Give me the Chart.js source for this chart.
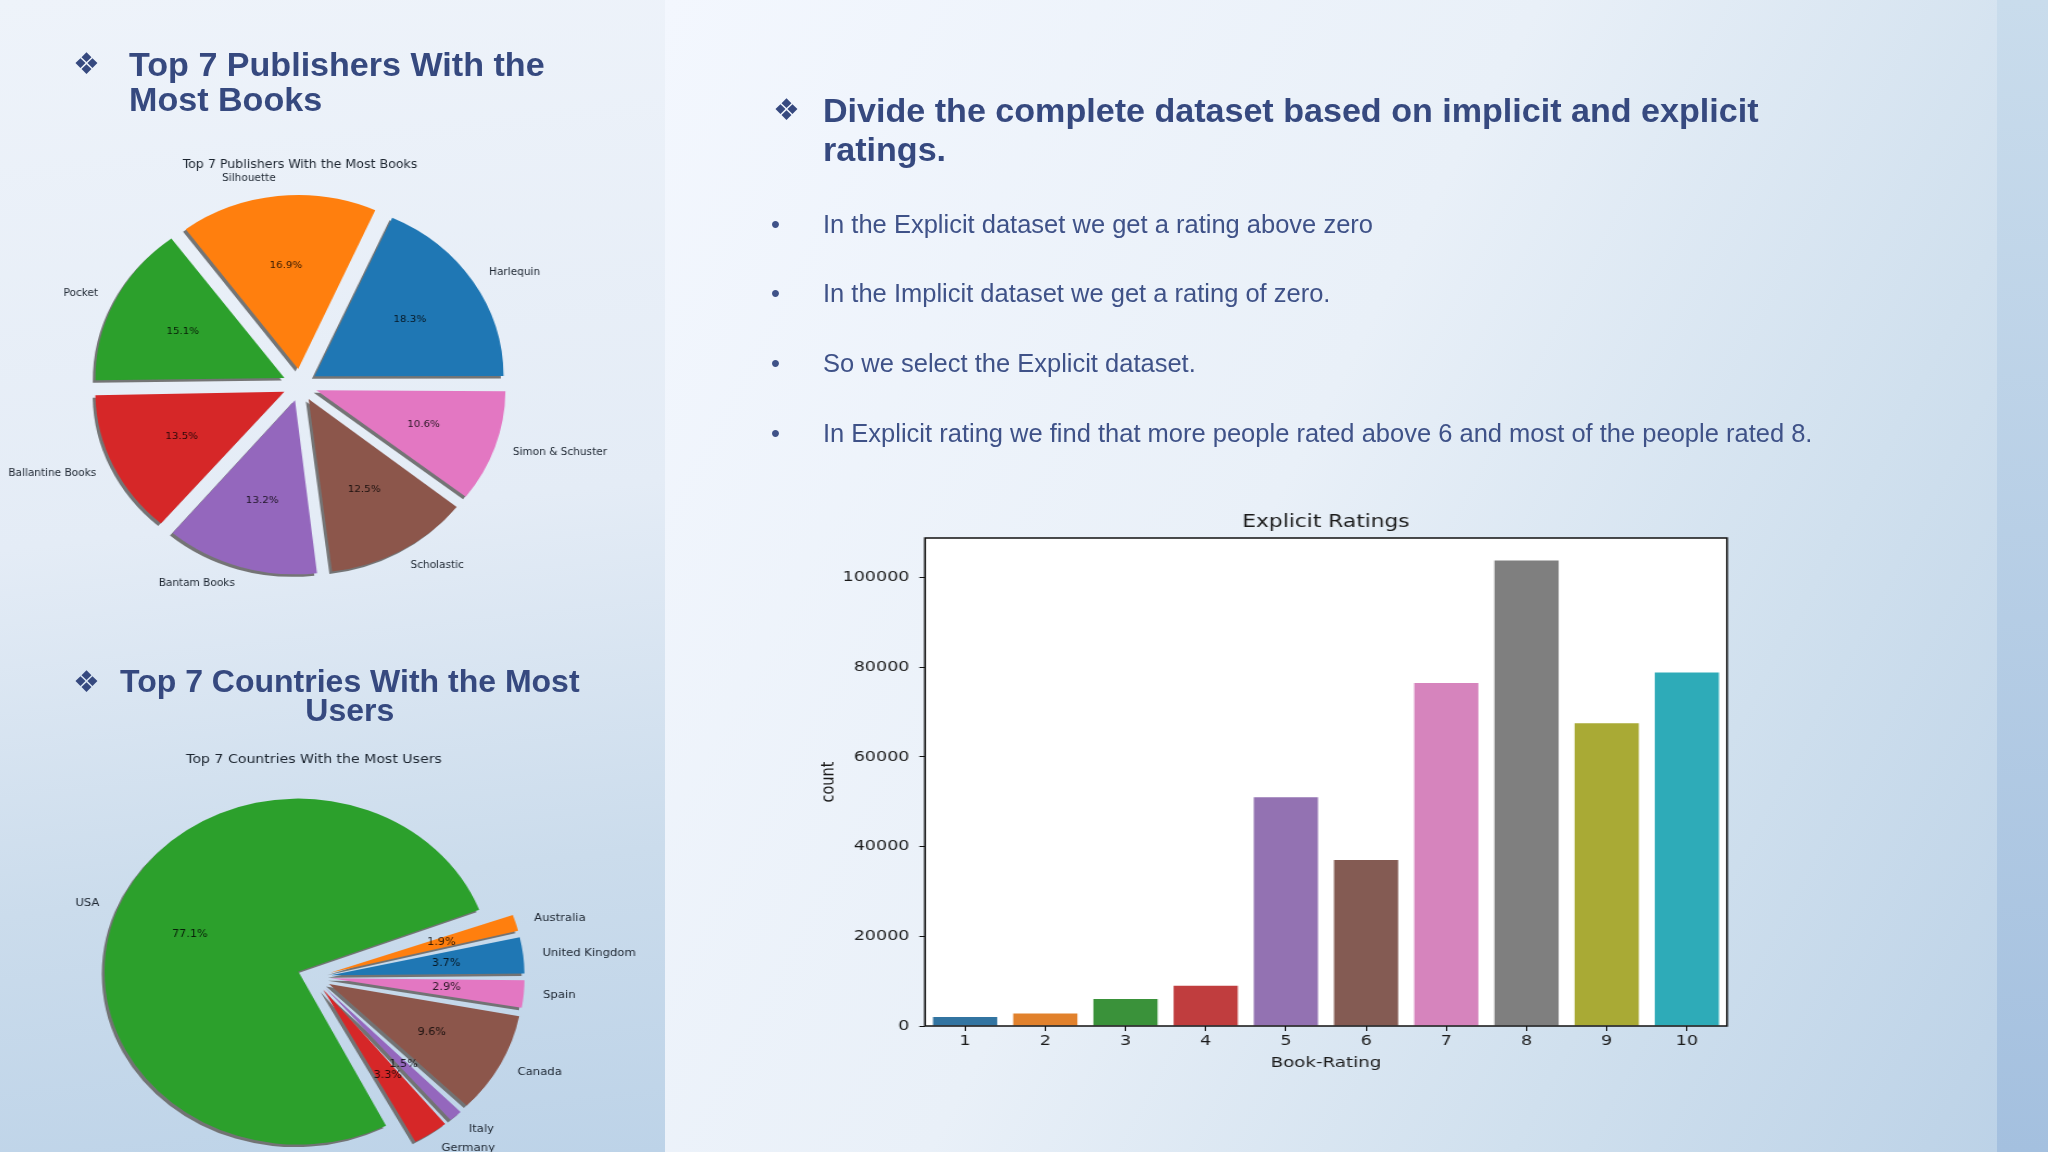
<!DOCTYPE html>
<html>
<head>
<meta charset="utf-8">
<title>Book ratings</title>
<script src="https://cdn.jsdelivr.net/npm/chart.js@4/dist/chart.umd.min.js"></script>
<style>
html, body { margin: 0; padding: 0; width: 2048px; height: 1152px; overflow: hidden; }
body { position: relative; background: #e8f0f8; font-family: "Liberation Sans", Arial, sans-serif; color: #36497f; }
#leftPanel { position: absolute; left: 0; top: 0; width: 665px; height: 1152px; background: linear-gradient(174deg, #eef3fa 0%, #e4ecf6 45%, #cbdcec 75%, #bdd3e8 100%); }
#mainPanel { position: absolute; left: 665px; top: 0; width: 1332px; height: 1152px; background: linear-gradient(118deg, #f3f7fe 0%, #e9f0f8 45%, #d0e0ee 75%, #bcd2e7 100%); }
#rightStrip { position: absolute; left: 1997px; top: 0; width: 51px; height: 1152px; background: linear-gradient(180deg, #c9dcec, #a4c0df); }
.t { position: absolute; white-space: nowrap; filter: blur(0.4px); }
.head { font-weight: bold; }
.sym { font-family: "DejaVu Sans"; font-size: 30px; }
.item { font-size: 25.5px; color: #3f5288; }
canvas { position: absolute; filter: blur(0.5px); }
</style>
</head>
<body>
<div id="leftPanel"></div>
<div id="mainPanel"></div>
<div id="rightStrip"></div>

<div class="t sym" style="left:73px;top:46px">❖</div>
<div class="t head" style="left:129px;top:47px;font-size:34.1px;line-height:35px">Top 7 Publishers With the<br>Most Books</div>
<div class="t sym" style="left:73px;top:664px">❖</div>
<div class="t head" style="left:120px;top:667px;font-size:32px;line-height:29px;text-align:center">Top 7 Countries With the Most<br>Users</div>

<div class="t sym" style="left:773px;top:92px">❖</div>
<div class="t head" style="left:823px;top:91px;font-size:34.1px;line-height:39px">Divide the complete dataset based on implicit and explicit<br>ratings.</div>
<div class="t item" style="left:771px;top:210px">•</div>
<div class="t item" style="left:823px;top:210px">In the Explicit dataset we get a rating above zero</div>
<div class="t item" style="left:771px;top:279px">•</div>
<div class="t item" style="left:823px;top:279px">In the Implicit dataset we get a rating of zero.</div>
<div class="t item" style="left:771px;top:349px">•</div>
<div class="t item" style="left:823px;top:349px">So we select the Explicit dataset.</div>
<div class="t item" style="left:771px;top:419px">•</div>
<div class="t item" style="left:823px;top:419px">In Explicit rating we find that more people rated above 6 and most of the people rated 8.</div>

<canvas id="publishers" width="600" height="470" style="left:0px;top:150px;transform:scaleX(1.086)"></canvas>
<canvas id="countries" width="600" height="470" style="left:14px;top:742px;transform:scaleX(1.12)"></canvas>
<canvas id="ratings" width="900" height="600" style="left:876px;top:500px;transform:scaleX(1.25)"></canvas>

<script>
// Publishers, counter-clockwise from 3 o'clock as in the picture
const publisherNames = ["Harlequin", "Silhouette", "Pocket", "Ballantine Books", "Bantam Books", "Scholastic", "Simon & Schuster"];
const publisherShares = [18.3, 16.9, 15.1, 13.5, 13.2, 12.5, 10.6];

// Countries, same order rule
const countryNames = ["United Kingdom", "Australia", "USA", "Germany", "Italy", "Canada", "Spain"];
const countryShares = [3.7, 1.9, 77.1, 3.3, 1.5, 9.6, 2.9];

const pieColors = ["#1f77b4", "#ff7f0e", "#2ca02c", "#d62728", "#9467bd", "#8c564b", "#e377c2"];

// Explicit ratings
const ratingLabels = ["1", "2", "3", "4", "5", "6", "7", "8", "9", "10"];
const ratingCounts = [2000, 2800, 6000, 9000, 51000, 37000, 76500, 103800, 67500, 78800];
const ratingColors = ["#3274a1", "#e1812c", "#3a923a", "#c03d3e", "#9372b2", "#845b53", "#d684bd", "#7f7f7f", "#a9aa35", "#2eabb8"];
const countTicks = [0, 20000, 40000, 60000, 80000, 100000];

const mplFont = '"DejaVu Sans"';

// Chart.js при offset ещё и увеличивает радиус сектора, убираем это
const drawArcBase = Chart.ArcElement.prototype.draw;
Chart.ArcElement.prototype.draw = function (ctx) {
    const shift = (this.options.offset || 0) / 4;
    const fix = 1 - Math.sin(Math.min(Math.PI, this.circumference || 0));
    const radius = this.outerRadius;
    this.outerRadius = radius - shift * fix;
    drawArcBase.call(this, ctx);
    this.outerRadius = radius;
};

// Серая тень как у matplotlib (shadow=True)
const pieShadow = {
    id: "pieShadow",
    beforeDatasetDraw(chart) {
        const ctx = chart.ctx;
        ctx.save();
        ctx.shadowColor = "rgba(110,110,110,0.95)";
        ctx.shadowOffsetX = -2.5;
        ctx.shadowOffsetY = 2.5;
    },
    afterDatasetDraw(chart) {
        chart.ctx.restore();
    }
};

// Подписи секторов и проценты
const pieLabels = {
    id: "pieLabels",
    afterDatasetsDraw(chart, args, opts) {
        const ctx = chart.ctx;
        const values = chart.data.datasets[0].data;
        ctx.save();
        ctx.textBaseline = "middle";
        chart.getDatasetMeta(0).data.forEach((arc, i) => {
            const mid = (arc.startAngle + arc.endAngle) / 2;
            const r = arc.outerRadius;
            const cos = Math.cos(mid), sin = Math.sin(mid);
            const labelR = r * 1.1 + opts.explode;
            const pctR = r * 0.6 + opts.explode;
            ctx.font = opts.labelSize + "px " + mplFont;
            ctx.fillStyle = "#1c2530";
            ctx.textAlign = cos >= 0 ? "left" : "right";
            ctx.fillText(chart.data.labels[i], arc.x + labelR * cos, arc.y + labelR * sin);
            ctx.font = opts.pctSize + "px " + mplFont;
            ctx.fillStyle = "rgba(0,0,0,0.8)";
            ctx.textAlign = "center";
            ctx.fillText(values[i].toFixed(1) + "%", arc.x + pctR * cos, arc.y + pctR * sin);
        });
        ctx.restore();
    }
};

function drawPie(canvasId, names, shares, titleText, radius, explode, titlePadTop, titleSize, labelSize, pctSize) {
    // Chart.js рисует по часовой стрелке, поэтому разворачиваем порядок
    const labels = names.slice().reverse();
    const data = shares.slice().reverse();
    const colors = pieColors.slice(0, names.length).reverse();
    const titleBlock = titleSize * 1.2 + titlePadTop + 4;
    new Chart(document.getElementById(canvasId), {
        type: "pie",
        data: {
            labels: labels,
            datasets: [{
                data: data,
                backgroundColor: colors,
                borderWidth: 0,
                offset: 4 * explode
            }]
        },
        options: {
            responsive: false,
            animation: false,
            rotation: 90,
            radius: radius,
            layout: { padding: { bottom: titleBlock } },
            plugins: {
                legend: { display: false },
                tooltip: { enabled: false },
                pieLabels: { labelSize: labelSize, pctSize: pctSize, explode: explode },
                title: {
                    display: true,
                    text: titleText,
                    color: "#1c2530",
                    font: { family: mplFont, size: titleSize, weight: "normal" },
                    padding: { top: titlePadTop, bottom: 4 }
                }
            }
        },
        plugins: [pieShadow, pieLabels]
    });
}

drawPie("publishers", publisherNames, publisherShares, "Top 7 Publishers With the Most Books", 174, 16, 8, 11.6, 9.7, 9.5);
drawPie("countries", countryNames, countryShares, "Top 7 Countries With the Most Users", 173, 15, 10, 12.6, 10.4, 10);

// Белый фон, рамка области графика и заголовок над её серединой
const plotFrame = {
    id: "plotFrame",
    beforeDraw(chart) {
        const a = chart.chartArea;
        chart.ctx.fillStyle = "#ffffff";
        chart.ctx.fillRect(a.left, a.top, a.width, a.height);
    },
    afterDraw(chart) {
        const a = chart.chartArea;
        const ctx = chart.ctx;
        ctx.strokeStyle = "#111111";
        ctx.lineWidth = 1.5;
        ctx.strokeRect(a.left, a.top, a.width, a.height);
        ctx.fillStyle = "#1a1a1a";
        ctx.font = "17.4px " + mplFont;
        ctx.textAlign = "center";
        ctx.textBaseline = "middle";
        ctx.fillText("Explicit Ratings", (a.left + a.right) / 2, a.top - 16);
    }
};

new Chart(document.getElementById("ratings"), {
    type: "bar",
    data: {
        labels: ratingLabels,
        datasets: [{
            data: ratingCounts,
            backgroundColor: ratingColors,
            barPercentage: 0.8,
            categoryPercentage: 1
        }]
    },
    options: {
        responsive: false,
        animation: false,
        layout: { padding: { left: 43, right: 129.2, top: 38, bottom: 28 } },
        plugins: {
            legend: { display: false },
            tooltip: { enabled: false }
        },
        scales: {
            x: {
                grid: { display: true, offset: false, drawOnChartArea: false, drawTicks: true, tickLength: 5, color: "#111111" },
                border: { display: false },
                ticks: { color: "#1a1a1a", font: { family: mplFont, size: 14 }, padding: 2, maxRotation: 0 },
                title: { display: true, text: "Book-Rating", color: "#1a1a1a", font: { family: mplFont, size: 14.6 }, padding: { top: 2, bottom: 0 } },
                afterFit: axis => { axis.height = 46; }
            },
            y: {
                min: 0,
                max: 108800,
                grid: { display: true, drawOnChartArea: false, drawTicks: true, tickLength: 4.5, color: "#111111" },
                border: { display: false },
                afterBuildTicks: axis => { axis.ticks = countTicks.map(v => ({ value: v })); },
                ticks: { color: "#1a1a1a", font: { family: mplFont, size: 14 }, padding: 8, callback: v => String(v) },
                title: { display: true, text: "count", color: "#1a1a1a", font: { family: mplFont, size: 14.6 }, padding: { top: 0, bottom: 0 } },
                afterFit: axis => { axis.width = 86.2; }
            }
        }
    },
    plugins: [plotFrame]
});
</script>
</body>
</html>
